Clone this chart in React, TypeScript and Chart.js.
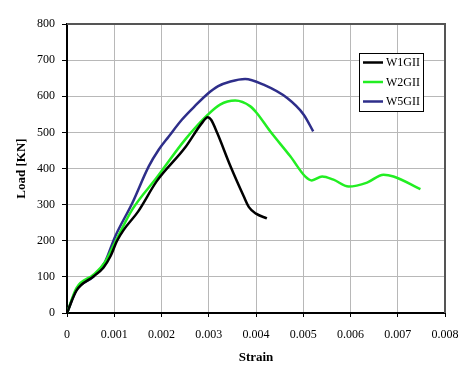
import React, { useEffect, useRef } from "react";
import { Chart, registerables } from "chart.js";

Chart.register(...registerables);

const seriesNames = ["W1GII", "W2GII", "W5GII"];
const seriesColors = ["#000000", "#22ee22", "#2e2e8a"];

const w1Strain = [0, 0.0002, 0.00056, 0.00077, 0.00092, 0.00106, 0.0012, 0.0015, 0.0019, 0.0025, 0.00285, 0.00298, 0.00305, 0.00318, 0.00346, 0.00374, 0.00385, 0.004, 0.00423];
const w1Load = [0, 62, 101, 125, 157, 200, 230, 280, 365, 458, 525, 542, 535, 498, 406, 323, 293, 275, 262];

const w2Strain = [0, 0.0002, 0.00056, 0.0008, 0.00102, 0.00138, 0.0019, 0.0025, 0.00298, 0.00324, 0.00356, 0.00388, 0.00402, 0.0043, 0.00473, 0.00504, 0.00518, 0.0054, 0.00564, 0.00596, 0.00635, 0.0067, 0.00691, 0.00748];
const w2Load = [0, 69, 106, 140, 196, 286, 375, 480, 549, 577, 588, 572, 553, 503, 433, 378, 367, 378, 369, 350, 361, 383, 378, 343];

const w5Strain = [0, 0.0002, 0.00056, 0.0008, 0.00102, 0.00138, 0.00173, 0.00194, 0.00215, 0.00243, 0.0027, 0.00296, 0.0032, 0.00346, 0.00377, 0.00416, 0.00466, 0.00501, 0.00521];
const w5Load = [0, 64, 101, 140, 212, 304, 406, 452, 488, 535, 572, 605, 628, 641, 648, 632, 595, 549, 503];

const xTicks = [0, 0.001, 0.002, 0.003, 0.004, 0.005, 0.006, 0.007, 0.008];
const yTicks = [0, 100, 200, 300, 400, 500, 600, 700, 800];

const toPoints = (xs: number[], ys: number[]) => xs.map((x, i) => ({ x, y: ys[i] }));

const FONT = "'Liberation Serif', 'Times New Roman', serif";

const frameAndLegend = {
  id: "frameAndLegend",
  afterDatasetsDraw(chart: any) {
    const { ctx, chartArea } = chart;
    ctx.save();
    ctx.strokeStyle = "#555555";
    ctx.lineWidth = 2;
    ctx.beginPath();
    ctx.moveTo(chartArea.left, chartArea.top);
    ctx.lineTo(chartArea.right, chartArea.top);
    ctx.lineTo(chartArea.right, chartArea.bottom);
    ctx.stroke();
    const bx = 359, by = 53, bw = 64, bh = 58;
    ctx.fillStyle = "#ffffff";
    ctx.fillRect(bx, by, bw, bh);
    ctx.strokeStyle = "#000000";
    ctx.lineWidth = 1;
    ctx.strokeRect(bx + 0.5, by + 0.5, bw, bh);
    ctx.font = "12px " + FONT;
    ctx.textBaseline = "middle";
    ctx.textAlign = "left";
    chart.data.datasets.forEach((ds: any, i: number) => {
      const yy = 62.5 + i * 19.5;
      ctx.strokeStyle = ds.borderColor;
      ctx.lineWidth = 2.5;
      ctx.beginPath();
      ctx.moveTo(bx + 4, yy);
      ctx.lineTo(bx + 24, yy);
      ctx.stroke();
      ctx.fillStyle = "#000000";
      ctx.fillText(ds.label, bx + 27, yy + 0.5);
    });
    ctx.restore();
  },
};

export default function App() {
  const ref = useRef<HTMLCanvasElement>(null);
  useEffect(() => {
    document.body.style.margin = "0";
    const strains = [w1Strain, w2Strain, w5Strain];
    const loads = [w1Load, w2Load, w5Load];
    const chart = new Chart(ref.current as HTMLCanvasElement, {
      type: "line",
      data: {
        datasets: seriesNames.map((name, i) => ({
          label: name,
          data: toPoints(strains[i], loads[i]),
          borderColor: seriesColors[i],
          backgroundColor: seriesColors[i],
          borderWidth: 2.5,
          pointRadius: 0,
          cubicInterpolationMode: "monotone",
          fill: false,
        })),
      },
      options: {
        responsive: false,
        animation: false,
        layout: { padding: { top: 24, right: 29, left: 14, bottom: 17 } },
        plugins: { legend: { display: false }, tooltip: { enabled: false } },
        scales: {
          x: {
            type: "linear",
            min: 0,
            max: 0.008,
            afterBuildTicks: (s: any) => {
              s.ticks = xTicks.map((v) => ({ value: v }));
            },
            afterFit: (s: any) => {
              s.height = 52;
            },
            ticks: {
              color: "#000",
              font: { family: FONT, size: 12 },
              padding: 11,
              maxRotation: 0,
              callback: (v: any) => (Number(v) === 0 ? "0" : Number(v).toFixed(3)),
            },
            grid: { color: "#b8b8b8", lineWidth: 1, tickLength: 4, tickColor: "#000" },
            border: { color: "#000", width: 2 },
            title: {
              display: true,
              text: "Strain",
              color: "#000",
              font: { family: FONT, size: 13, weight: "bold" },
              padding: { top: 6, bottom: 0 },
            },
          },
          y: {
            type: "linear",
            min: 0,
            max: 800,
            afterBuildTicks: (s: any) => {
              s.ticks = yTicks.map((v) => ({ value: v }));
            },
            afterFit: (s: any) => {
              s.width = 53;
            },
            ticks: {
              color: "#000",
              font: { family: FONT, size: 12 },
              padding: 7,
            },
            grid: { color: "#b8b8b8", lineWidth: 1, tickLength: 5, tickColor: "#000" },
            border: { color: "#000", width: 2 },
            title: {
              display: true,
              text: "Load [KN]",
              color: "#000",
              font: { family: FONT, size: 13, weight: "bold" },
              padding: { top: 0, bottom: 4 },
            },
          },
        },
      },
      plugins: [frameAndLegend],
    } as any);
    return () => chart.destroy();
  }, []);
  return (
    <div style={{ width: 474, height: 382, background: "#fff" }}>
      <canvas ref={ref} width={474} height={382} />
    </div>
  );
}
